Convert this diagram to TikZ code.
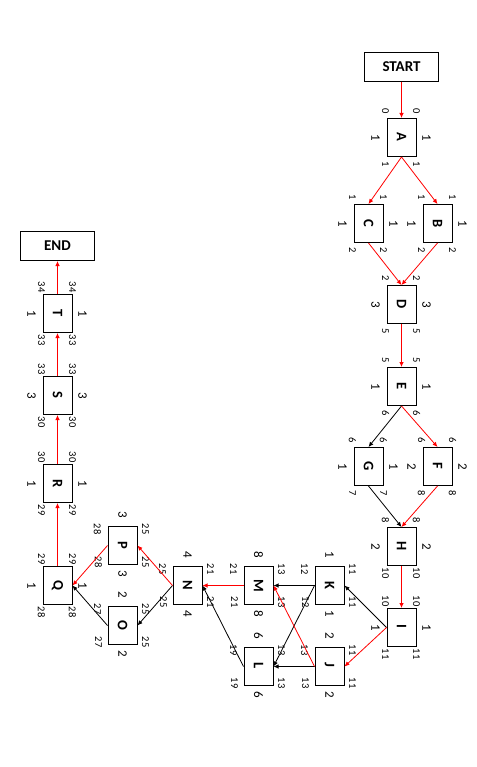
\documentclass[tikz,border=0pt]{standalone}
\usepackage{fontspec}
\setmainfont{Carlito}
\usepackage{graphicx}
\usetikzlibrary{arrows.meta,positioning}
\definecolor{critred}{rgb}{1,0,0}
\newcommand{\Rot}[1]{\rotatebox[origin=c]{-90}{#1}}
% numbers round a box of the columns: top left, top right, left, right, bottom left, bottom right
\newcommand{\vnums}[7]{%
	\node[cnum] (#1tl) at ([shift={(-1,-7)}]#1.north west) {#2};
	\node[cnum] (#1tr) at ([shift={(0,-7)}]#1.north east) {#3};
	\node[dnum] (#1l) at ([shift={(-11,0)}]#1.west) {#4};
	\node[dnum] (#1r) at ([shift={(10,0)}]#1.east) {#5};
	\node[cnum] (#1bl) at ([shift={(-1,7)}]#1.south west) {#6};
	\node[cnum] (#1br) at ([shift={(0,7)}]#1.south east) {#7};
}
% numbers round a box of the rows: top, bottom, left top, left bottom, right top, right bottom
\newcommand{\hnums}[7]{%
	\node[dnum] (#1t) at ([shift={(0,-11)}]#1.north) {#2};
	\node[dnum] (#1b) at ([shift={(0,9)}]#1.south) {#3};
	\node[cnum] (#1lt) at ([shift={(-10,3)}]#1.north west) {#4};
	\node[cnum] (#1lb) at ([shift={(-9,-3)}]#1.south west) {#5};
	\node[cnum] (#1rt) at ([shift={(8,3)}]#1.north east) {#6};
	\node[cnum] (#1rb) at ([shift={(8,-3)}]#1.south east) {#7};
}

\begin{document}
\begin{tikzpicture}[x=1pt,y=-1pt,% one unit is one pixel of the page
			every node/.style={inner sep=0pt},
			task/.style={rectangle,draw=black,line width=1pt,minimum width=29pt,minimum height=38pt,
				font=\bfseries\fontsize{14.5}{16}\selectfont},
			term/.style={rectangle,draw=black,line width=1pt,minimum width=74pt,minimum height=29pt,
				font=\bfseries\fontsize{15}{17}\selectfont},
			cnum/.style={rotate=-90,font=\fontsize{10.5}{12}\selectfont},	% corner numbers
			dnum/.style={rotate=-90,font=\fontsize{13}{14}\selectfont},	% durations
			every edge/.style={draw,line width=0.8pt,-{Latex[length=5pt,width=4.5pt]}},
			crit/.style={critred}	% critical path
		]
		\useasboundingbox (0,0) rectangle (476,767);
		\node[term](Start) at (401.5,67) {START};
		\node[task](A)[below=36pt of Start]{\Rot{A}};
		\node[task](C)[below left=47pt and 3pt of A]{\Rot{C}};
		\node[task](B)[below right=47pt and 6pt of A]{\Rot{B}};
		\node[task](D)[below=128pt of A]{\Rot{D}};
		\node[task](E)[below=43pt of D]{\Rot{E}};
		\node[task](G)[below left=41pt and 3pt of E]{\Rot{G}};
		\node[task](F)[below right=41pt and 6pt of E]{\Rot{F}};
		\node[task](H)[below=121pt of E]{\Rot{H}};
		\node[task](I)[below=42pt of H]{\Rot{I}};
		\node[task](K)[above left=3pt and 42pt of I]{\Rot{K}};
		\node[task](J)[below left=0pt and 42pt of I]{\Rot{J}};
		\node[task](M)[left=41pt of K]{\Rot{M}};
		\node[task](L)[left=41pt of J]{\Rot{L}};
		\node[task](N)[left=41pt of M]{\Rot{N}};
		\node[task](P)[above left=1pt and 35pt of N]{\Rot{P}};
		\node[task](O)[below left=1pt and 35pt of N]{\Rot{O}};
		\node[task](Q)[left=100pt of N]{\Rot{Q}};
		\node[task](R)[above=63pt of Q]{\Rot{R}};
		\node[task](S)[above=49pt of R]{\Rot{S}};
		\node[task](T)[above=43pt of S]{\Rot{T}};
		\node[term](End)[above=33pt of T]{END};

		\vnums{A}{0}{0}{1}{1}{1}{1}
		\vnums{C}{1}{1}{1}{1}{2}{2}
		\vnums{B}{1}{1}{1}{1}{2}{2}
		\vnums{D}{2}{2}{3}{3}{5}{5}
		\vnums{E}{5}{5}{1}{1}{6}{6}
		\vnums{G}{6}{6}{1}{1}{7}{7}
		\vnums{F}{6}{6}{2}{2}{8}{8}
		\vnums{H}{8}{8}{2}{2}{10}{10}
		\vnums{I}{10}{10}{1}{1}{11}{11}
		\hnums{K}{1}{1}{12}{12}{11}{11}
		\hnums{J}{2}{2}{13}{13}{11}{11}
		\hnums{M}{8}{8}{21}{21}{13}{13}
		\hnums{L}{6}{6}{19}{19}{13}{13}
		\hnums{N}{4}{4}{25}{25}{21}{21}
		\hnums{P}{3}{3}{28}{28}{25}{25}
		\hnums{O}{2}{2}{27}{27}{25}{25}
		\vnums{Q}{29}{29}{1}{1}{28}{28}
		\vnums{R}{30}{30}{1}{1}{29}{29}
		\vnums{S}{33}{33}{3}{3}{30}{30}
		\vnums{T}{34}{34}{1}{1}{33}{33}

		\path
		(E.south)edge [] (G.north)
		(G.south)edge [] (H.north)
		(I.west)edge [] (K.east)
		(K.west)edge [] (M.east)
		(K.west)edge [] (L.east)
		(J.west)edge [] (L.east)
		(L.west)edge [] (N.east)
		(N.west)edge [] (O.east)
		(O.west)edge [] (Q.east)
		(Start.south)edge [crit] (A.north)
		(A.south)edge [crit] (C.north)
		(A.south)edge [crit] (B.north)
		(C.south)edge [crit] (D.north)
		(B.south)edge [crit] (D.north)
		(D.south)edge [crit] (E.north)
		(E.south)edge [crit] (F.north)
		(F.south)edge [crit] (H.north)
		(H.south)edge [crit] (I.north)
		(I.west)edge [crit] (J.east)
		(J.west)edge [crit] (M.east)
		(M.west)edge [crit] (N.east)
		(N.west)edge [crit] (P.east)
		(P.west)edge [crit] (Q.east)
		(Q.north)edge [crit] (R.south)
		(R.north)edge [crit] (S.south)
		(S.north)edge [crit] (T.south)
		(T.north)edge [crit] (End.south)
		;
	\end{tikzpicture}
\end{document}
